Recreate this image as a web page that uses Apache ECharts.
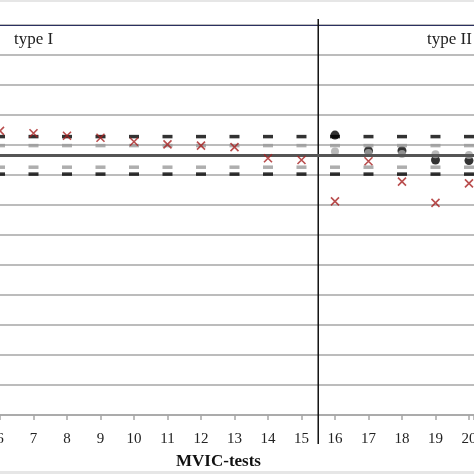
<!DOCTYPE html>
<html>
<head>
<meta charset="utf-8">
<script src="https://cdn.jsdelivr.net/npm/echarts@6/dist/echarts.min.js"></script>
<style>
  html, body { margin: 0; padding: 0; background: #fff; }
  #chart { width: 474px; height: 474px; }
</style>
</head>
<body>
<div id="chart"></div>
<script>
// MVIC-tests shown in the crop (x axis)
const tests = [6, 7, 8, 9, 10, 11, 12, 13, 14, 15, 16, 17, 18, 19, 20];
// red crosses, one per test
const crossValues = [94.7, 93.9, 93.1, 92.4, 91.1, 90.2, 89.8, 89.3, 85.6, 85.0, 71.2, 84.6, 77.8, 70.7, 77.2];
// type II tests with circle markers
const typeIITests = [16, 17, 18, 19, 20];
const blackDots = [93.3, 88.1, 88.1, 85.0, 84.8];
const grayDots = [87.8, 87.3, 87.0, 86.9, 86.7];
// reference levels
const meanValue = 86.7;
const outerLimits = [92.8, 80.3];
const innerLimits = [89.8, 82.6];
// boundary between type I and type II
const typeBoundary = 15.5;

const serif = "'Liberation Serif', 'DejaVu Serif', serif";

let myChart = echarts.init(document.getElementById("chart"));

function limitPoints(levels) {
  let pts = [];
  levels.forEach((lv) => tests.forEach((t) => pts.push([t, lv])));
  return pts;
}

myChart.setOption({
  animation: false,
  backgroundColor: "#fff",
  grid: { left: 0, right: 0, top: 25, bottom: 59, containLabel: false, outerBoundsMode: "none" },
  xAxis: [
    {
      type: "value",
      min: 6,
      max: 20.15,
      interval: 1,
      axisLine: { lineStyle: { color: "#a6a6a6", width: 1.5 } },
      axisTick: { length: 5, lineStyle: { color: "#a6a6a6", width: 1.5 } },
      axisLabel: {
        margin: 17,
        color: "#222",
        fontFamily: serif,
        fontSize: 15,
        formatter: (v) => (Number.isInteger(v) ? String(v) : ""),
      },
      splitLine: { show: false },
    },
    {
      // plot area top border
      type: "value",
      position: "top",
      min: 6,
      max: 20.15,
      axisLine: { lineStyle: { color: "#2b3060", width: 1 } },
      axisTick: { show: false },
      axisLabel: { show: false },
      splitLine: { show: false },
    },
  ],
  yAxis: {
    type: "value",
    min: 0,
    max: 130,
    interval: 10,
    axisLine: { show: false },
    axisTick: { show: false },
    axisLabel: { show: false },
    splitLine: { lineStyle: { color: "#a6a6a6", width: 1.5 } },
  },
  series: [
    {
      // type boundary line
      type: "line",
      z: 1,
      clip: false,
      symbol: "none",
      lineStyle: { color: "#111", width: 1.5 },
      data: [[typeBoundary, 132], [typeBoundary, -9.7]],
      markLine: {
        silent: true,
        symbol: "none",
        label: { show: false },
        lineStyle: { color: "#555", width: 3, type: "solid" },
        data: [{ yAxis: meanValue }],
      },
    },
    {
      type: "scatter",
      z: 2,
      symbol: "circle",
      symbolSize: 9,
      itemStyle: { color: "#000" },
      data: typeIITests.map((t, i) => [t, blackDots[i]]),
    },
    {
      type: "scatter",
      z: 3,
      symbol: "circle",
      symbolSize: 8,
      itemStyle: { color: "#a8a8a8" },
      data: typeIITests.map((t, i) => [t, grayDots[i]]),
    },
    {
      type: "scatter",
      z: 4,
      symbol: "rect",
      symbolSize: [10, 3.5],
      itemStyle: { color: "#9a9a9a" },
      data: limitPoints(innerLimits),
    },
    {
      type: "scatter",
      z: 5,
      symbol: "rect",
      symbolSize: [10, 3.5],
      itemStyle: { color: "#000" },
      data: limitPoints(outerLimits),
    },
    {
      type: "scatter",
      z: 6,
      symbol: "path://M0,0L10,10M10,0L0,10",
      symbolSize: 8,
      itemStyle: { color: "none", borderColor: "#a82020", borderWidth: 1.6 },
      data: tests.map((t, i) => [t, crossValues[i]]),
    },
  ],
  graphic: [
    { type: "rect", left: 0, top: 0, shape: { width: 474, height: 2 }, style: { fill: "#e6e6e6" } },
    { type: "rect", left: 0, top: 471, shape: { width: 474, height: 3 }, style: { fill: "#e6e6e6" } },
    {
      type: "text", left: 14, top: 31,
      style: { text: "type I", fill: "#222", font: "17px " + serif },
    },
    {
      type: "text", left: 427, top: 31,
      style: { text: "type II", fill: "#222", font: "17px " + serif },
    },
    {
      type: "text", left: 176, top: 453,
      style: { text: "MVIC-tests", fill: "#111", font: "bold 17px " + serif },
    },
  ],
});

window.addEventListener("resize", () => {
  myChart.resize();
});
</script>
</body>
</html>
